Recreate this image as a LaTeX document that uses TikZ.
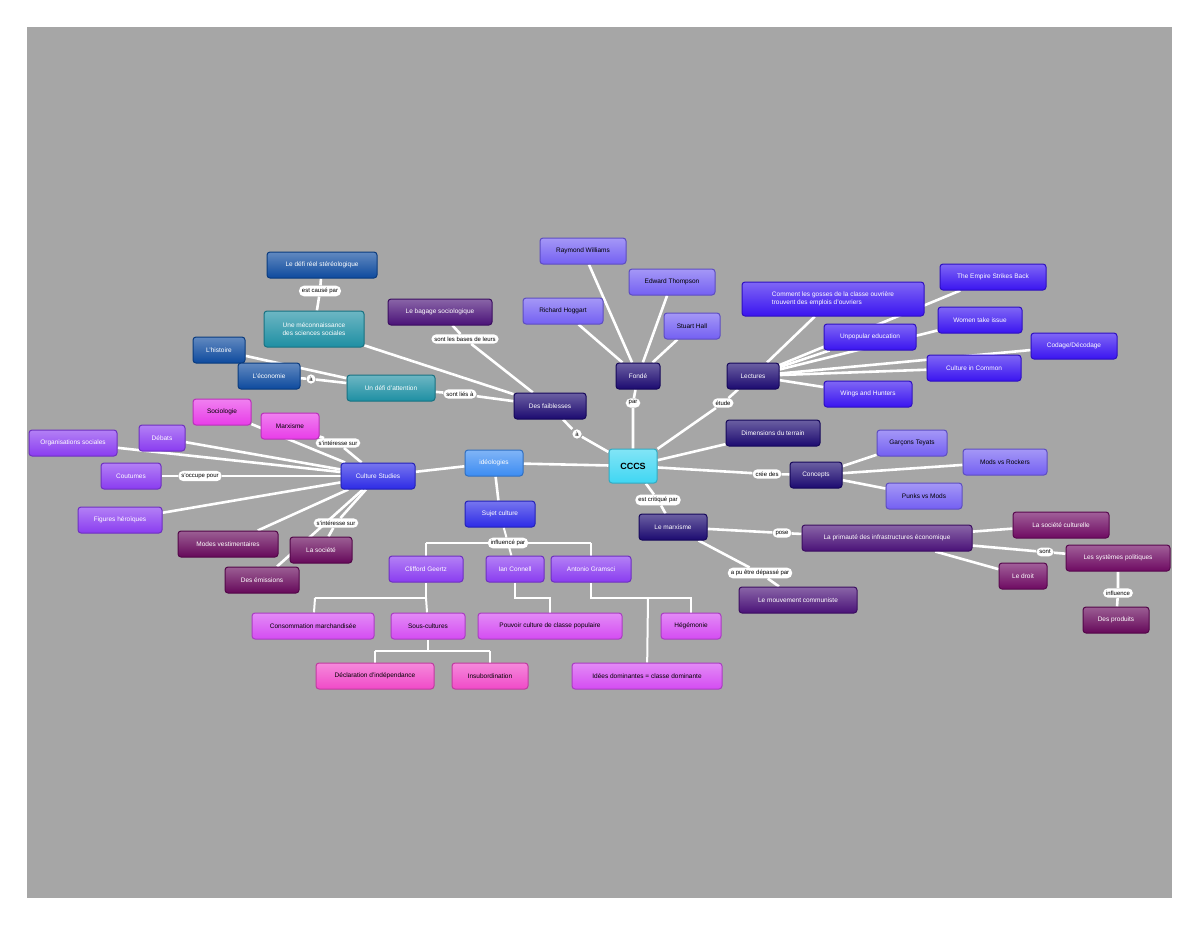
\documentclass[tikz,border=0pt]{standalone}
\usepackage{fontspec}
\setmainfont{Liberation Sans}
\usetikzlibrary{backgrounds}
\definecolor{bgc}{HTML}{A6A6A6}
\definecolor{navy}{HTML}{1C0A70}
\definecolor{dblue}{HTML}{0D4A9E}
\definecolor{teal}{HTML}{1E8FA3}
\definecolor{dpur}{HTML}{4A1278}
\definecolor{lviol}{HTML}{7460F2}
\definecolor{bluetwo}{HTML}{3A14F0}
\definecolor{cyanc}{HTML}{3FD6F2}
\definecolor{maroon}{HTML}{6E0A62}
\definecolor{dmaroon}{HTML}{66085A}
\definecolor{blueCS}{HTML}{2D2BE6}
\definecolor{lblue}{HTML}{3C8CF2}
\definecolor{viol}{HTML}{8A3CF0}
\definecolor{mag}{HTML}{E83CE8}
\definecolor{mag2}{HTML}{D44CF2}
\definecolor{pink}{HTML}{F04AC8}
\tikzset{
 x=1pt,y=-1pt,
 bx/.style={rounded corners=3pt,draw=#1!80!black,line width=1pt,top color=#1!65!white,bottom color=#1,text=white,minimum height=26pt,inner sep=2pt,font=\fontsize{6.5}{7.5}\selectfont,align=center},
 bxk/.style={bx=#1,text=black},
 lbl/.style={fill=white,rounded corners=5pt,inner xsep=3pt,inner ysep=2.5pt,font=\fontsize{6}{7}\selectfont},
 ed/.style={draw=white,line width=2.6pt},
 tr/.style={draw=white,line width=2pt},
}
\begin{document}
\begin{tikzpicture}
\useasboundingbox (0,0) rectangle (1200,927);
\node[bx=dblue,minimum width=110] (defi) at (322,265) {Le défi réel stéréologique};
\node[bx=teal,minimum width=100,minimum height=36] (meconn) at (314,329) {Une méconnaissance\\des sciences sociales};
\node[bx=dpur,minimum width=104] (bagage) at (440,312) {Le bagage sociologique};
\node[bx=dblue,minimum width=52] (histoire) at (219,350) {L'histoire};
\node[bx=dblue,minimum width=62] (economie) at (269,376) {L'économie};
\node[bx=teal,minimum width=88] (defiatt) at (391,388) {Un défi d'attention};
\node[bx=navy,minimum width=72] (faibl) at (550,406) {Des faiblesses};
\node[bxk=lviol,minimum width=86] (ray) at (583,251) {Raymond Williams};
\node[bxk=lviol,minimum width=86] (edw) at (672,282) {Edward Thompson};
\node[bxk=lviol,minimum width=80] (ric) at (563,311) {Richard Hoggart};
\node[bxk=lviol,minimum width=56] (stu) at (692,326) {Stuart Hall};
\node[bx=navy,minimum width=44] (fonde) at (638,376) {Fondé};
\node[bx=bluetwo,minimum width=182,minimum height=34,align=left] (comment) at (833,299) {Comment les gosses de la classe ouvrière\\trouvent des emplois d'ouvriers};
\node[bx=bluetwo,minimum width=106] (empire) at (993,277) {The Empire Strikes Back};
\node[bx=bluetwo,minimum width=84] (women) at (980,320) {Women take issue};
\node[bx=bluetwo,minimum width=92] (unpop) at (870,337) {Unpopular education};
\node[bx=bluetwo,minimum width=86] (codage) at (1074,346) {Codage/Décodage};
\node[bx=bluetwo,minimum width=94] (cinc) at (974,368) {Culture in Common};
\node[bx=navy,minimum width=52] (lect) at (753,376) {Lectures};
\node[bx=bluetwo,minimum width=88] (wings) at (868,394) {Wings and Hunters};
\node[bx=navy,minimum width=94] (dim) at (773,433) {Dimensions du terrain};
\node[bxk=cyanc,minimum width=48,minimum height=34,font=\fontsize{9}{10}\selectfont\bfseries] (cccs) at (633,466) {CCCS};
\node[bx=navy,minimum width=52] (conc) at (816,475) {Concepts};
\node[bxk=lviol,minimum width=70] (garc) at (912,443) {Garçons Teyats};
\node[bxk=lviol,minimum width=84] (mods) at (1005,462) {Mods vs Rockers};
\node[bxk=lviol,minimum width=76] (punks) at (924,496) {Punks vs Mods};
\node[bx=navy,minimum width=68] (marx) at (673,527) {Le marxisme};
\node[bx=dpur,minimum width=170] (prim) at (887,538) {La primauté des infrastructures économique};
\node[bx=maroon,minimum width=96] (soc) at (1061,525) {La société culturelle};
\node[bx=maroon,minimum width=104] (sys) at (1118,558) {Les systèmes politiques};
\node[bx=maroon,minimum width=48] (droit) at (1023,576) {Le droit};
\node[bx=dmaroon,minimum width=66] (prod) at (1116,620) {Des produits};
\node[bx=dpur,minimum width=118] (mouv) at (798,600) {Le mouvement communiste};
\node[bx=blueCS,minimum width=74] (cs) at (378,476) {Culture Studies};
\node[bx=lblue,minimum width=58] (ideo) at (494,463) {idéologies};
\node[bx=blueCS,minimum width=70] (sujet) at (500,514) {Sujet culture};
\node[bx=viol,minimum width=74] (cliff) at (426,569) {Clifford Geertz};
\node[bx=viol,minimum width=58] (ian) at (515,569) {Ian Connell};
\node[bx=viol,minimum width=80] (anto) at (591,569) {Antonio Gramsci};
\node[bxk=mag2,minimum width=122] (consom) at (313,626) {Consommation marchandisée};
\node[bxk=mag2,minimum width=74] (sousc) at (428,626) {Sous-cultures};
\node[bxk=mag2,minimum width=144] (pouv) at (550,626) {Pouvoir culture de classe populaire};
\node[bxk=mag2,minimum width=60] (hege) at (691,626) {Hégémonie};
\node[bxk=pink,minimum width=118] (decl) at (375,676) {Déclaration d'indépendance};
\node[bxk=pink,minimum width=76] (insub) at (490,676) {Insubordination};
\node[bxk=mag2,minimum width=150] (idees) at (647,676) {Idées dominantes = classe dominante};
\node[bxk=mag,minimum width=58] (socio) at (222,412) {Sociologie};
\node[bxk=mag,minimum width=58] (marxi) at (290,426) {Marxisme};
\node[bx=viol,minimum width=88] (orga) at (73,443) {Organisations sociales};
\node[bx=viol,minimum width=46] (debat) at (162,438) {Débats};
\node[bx=viol,minimum width=60] (cout) at (131,476) {Coutumes};
\node[bx=viol,minimum width=84] (fig) at (120,520) {Figures héroïques};
\node[bx=dmaroon,minimum width=100] (modes) at (228,544) {Modes vestimentaires};
\node[bx=dmaroon,minimum width=62] (lasoc) at (321,550) {La société};
\node[bx=dmaroon,minimum width=74] (emis) at (262,580) {Des émissions};
\node[lbl] (l1) at (320,291) {est causé par};
\node[lbl] (l2) at (465,339) {sont les bases de leurs};
\node[lbl] (l3) at (311,379) {à};
\node[lbl] (l4) at (460,394) {sont liés à};
\node[lbl] (l5) at (577,434) {à};
\node[lbl] (l6) at (633,403) {par};
\node[lbl] (l7) at (723,403) {étude};
\node[lbl] (l8) at (767,474) {crée des};
\node[lbl] (l9) at (658,500) {est critiqué par};
\node[lbl] (l10) at (782,533) {pose};
\node[lbl] (l11) at (1045,552) {sont};
\node[lbl] (l12) at (1118,593) {influence};
\node[lbl] (l13) at (760,573) {a pu être dépassé par};
\node[lbl] (l14) at (508,543) {influencé par};
\node[lbl] (l15) at (338,443) {s'intéresse sur};
\node[lbl] (l16) at (200,476) {s'occupe pour};
\node[lbl] (l17) at (336,523) {s'intéresse sur};
\coordinate (t1) at (426,543); \coordinate (t2) at (591,543);
\coordinate (c1) at (426,598); \coordinate (c2) at (315,598);
\coordinate (i1) at (515,598); \coordinate (i2) at (550,598);
\coordinate (a1) at (591,598); \coordinate (a2) at (691,598); \coordinate (a3) at (648,598);
\coordinate (s1) at (428,651); \coordinate (s2) at (375,651); \coordinate (s3) at (490,651);
\begin{scope}[on background layer]
\fill[white] (0,0) rectangle (1200,927);
\fill[bgc] (27,27) rectangle (1172,898);
\draw[ed] (defi)--(l1)--(meconn);
\draw[ed] (meconn)--(faibl);
\draw[ed] (bagage)--(l2)--(faibl);
\draw[ed] (histoire)--(defiatt);
\draw[ed] (economie)--(l3)--(defiatt);
\draw[ed] (defiatt)--(l4)--(faibl);
\draw[ed] (faibl)--(l5)--(cccs);
\foreach \n in {ray,edw,ric,stu} \draw[ed] (\n)--(fonde);
\draw[ed] (fonde)--(l6)--(cccs);
\foreach \n in {comment,empire,women,unpop,codage,cinc,wings} \draw[ed] (lect)--(\n);
\draw[ed] (lect)--(l7)--(cccs);
\draw[ed] (dim)--(cccs);
\draw[ed] (cccs)--(l8)--(conc);
\foreach \n in {garc,mods,punks} \draw[ed] (conc)--(\n);
\draw[ed] (cccs)--(l9)--(marx);
\draw[ed] (marx)--(l10)--(prim);
\draw[ed] (prim)--(soc); \draw[ed] (prim)--(l11)--(sys); \draw[ed] (prim)--(droit);
\draw[ed] (sys)--(l12)--(prod);
\draw[ed] (marx)--(l13)--(mouv);
\draw[ed] (cccs)--(ideo); \draw[ed] (ideo)--(cs); \draw[ed] (ideo)--(sujet);
\draw[ed] (socio)--(cs); \draw[ed] (marxi)--(l15)--(cs);
\draw[ed] (orga)--(cs); \draw[ed] (debat)--(cs);
\draw[ed] (cout)--(l16)--(cs); \draw[ed] (fig)--(cs);
\draw[ed] (modes)--(cs); \draw[ed] (lasoc)--(l17)--(cs); \draw[ed] (emis)--(cs);
\draw[tr] (sujet)--(l14); \draw[tr] (t1)--(t2); \draw[tr] (t1)--(cliff); \draw[tr] (508,543)--(ian); \draw[tr] (t2)--(anto);
\draw[tr] (cliff)--(c1); \draw[tr] (c2)--(c1); \draw[tr] (c2)--(consom); \draw[tr] (c1)--(sousc);
\draw[tr] (ian)--(i1)--(i2)--(pouv);
\draw[tr] (anto)--(a1)--(a2)--(hege); \draw[tr] (a3)--(idees);
\draw[tr] (sousc)--(s1); \draw[tr] (s2)--(s3); \draw[tr] (s2)--(decl); \draw[tr] (s3)--(insub);
\end{scope}
\end{tikzpicture}
\end{document}
